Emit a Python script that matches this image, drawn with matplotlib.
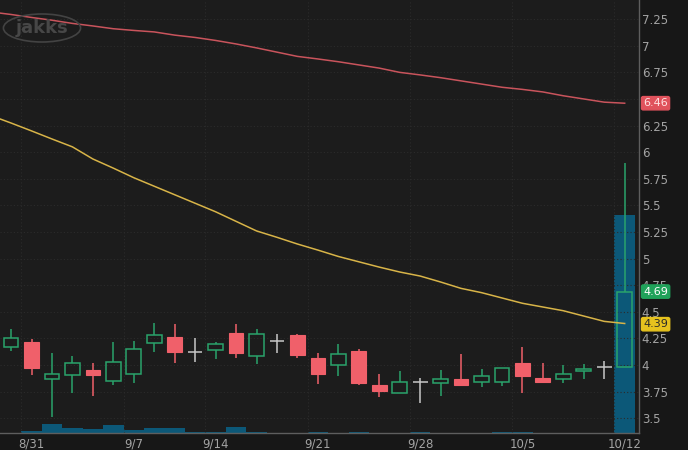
import matplotlib
matplotlib.use("Agg")
import matplotlib.pyplot as plt
import numpy as np

# ---------------- data ----------------
dates = ["8/28", "8/31", "9/1", "9/2", "9/3", "9/4", "9/8", "9/9", "9/10", "9/11",
         "9/14", "9/15", "9/16", "9/17", "9/18", "9/21", "9/22", "9/23", "9/24", "9/25",
         "9/28", "9/29", "9/30", "10/1", "10/2", "10/5", "10/6", "10/7", "10/8", "10/9",
         "10/12"]
opens  = [4.17, 4.22, 3.87, 3.91, 3.95, 3.85, 3.92, 4.21, 4.26, 4.12,
          4.14, 4.30, 4.08, 4.225, 4.28, 4.07, 4.00, 4.13, 3.81, 3.74,
          3.84, 3.83, 3.87, 3.84, 3.84, 4.02, 3.88, 3.87, 3.94, 3.98,
          3.98]
highs  = [4.34, 4.24, 4.11, 4.08, 4.02, 4.22, 4.23, 4.39, 4.385, 4.25,
          4.22, 4.385, 4.34, 4.29, 4.29, 4.11, 4.20, 4.15, 3.92, 3.94,
          3.88, 3.95, 4.10, 3.96, 3.97, 4.17, 4.02, 4.00, 4.01, 4.04,
          5.90]
lows   = [4.13, 3.91, 3.51, 3.74, 3.71, 3.81, 3.83, 4.12, 4.02, 4.03,
          4.06, 4.07, 4.01, 4.11, 4.07, 3.82, 3.90, 3.81, 3.70, 3.74,
          3.64, 3.71, 3.80, 3.79, 3.80, 3.74, 3.83, 3.83, 3.87, 3.87,
          3.98]
closes = [4.25, 3.97, 3.92, 4.02, 3.91, 4.03, 4.15, 4.28, 4.12, 4.12,
          4.20, 4.11, 4.29, 4.225, 4.09, 3.92, 4.10, 3.83, 3.76, 3.84,
          3.84, 3.87, 3.81, 3.90, 3.97, 3.90, 3.84, 3.92, 3.96, 3.98,
          4.69]
volumes = [50, 200, 900, 500, 400, 800, 300, 500, 500, 100,
           100, 600, 100, 50, 50, 100, 50, 100, 50, 50,
           150, 50, 50, 50, 100, 150, 50, 50, 50, 50,
           21800]  # thousands (relative)

# moving averages (first value is the session before the first candle)
ma_slow = [7.318, 7.294, 7.266, 7.24, 7.21, 7.186, 7.16, 7.144, 7.13, 7.10, 7.078,
           7.05, 7.017, 6.98, 6.94, 6.90, 6.876, 6.85, 6.82, 6.79, 6.75,
           6.726, 6.70, 6.67, 6.64, 6.61, 6.59, 6.566, 6.53, 6.50, 6.47, 6.46]
ma_fast = [6.345, 6.274, 6.20, 6.124, 6.05, 5.936, 5.85, 5.76, 5.68, 5.60, 5.52,
           5.44, 5.35, 5.26, 5.20, 5.137, 5.08, 5.02, 4.97, 4.92, 4.874,
           4.836, 4.78, 4.72, 4.68, 4.63, 4.58, 4.545, 4.51, 4.46, 4.41, 4.39]

xtick_labels = ["8/31", "9/7", "9/14", "9/21", "9/28", "10/5", "10/12"]
xtick_idx = [1, 6, 10, 15, 20, 25, 30]
week_breaks = [0.5, 5.5, 9.5, 14.5, 19.5, 24.5, 29.5]
price_ticks = [3.5, 3.75, 4, 4.25, 4.5, 4.75, 5, 5.25, 5.5, 5.75, 6, 6.25, 6.5, 6.75, 7, 7.25]
price_tick_labels = ["3.5", "3.75", "4", "4.25", "4.5", "4.75", "5", "5.25", "5.5",
                     "5.75", "6", "6.25", "", "6.75", "7", "7.25"]

# ---------------- style ----------------
BG = "#1c1c1c"
GREEN = "#2aa36b"
RED = "#f0606a"
GRAY = "#c8c8c8"
VOL = "#0c5878"
SLOW = "#c9545c"
FAST = "#d8b448"
TXT = "#a3a3a3"

W, H = 688, 450
fig = plt.figure(figsize=(W / 100, H / 100), dpi=100, facecolor="#171717")
rect = [0, (H - 433) / H, 639 / W, 433 / H]
ax = fig.add_axes(rect)
ax_vol = ax.twinx()
ax.set_zorder(ax_vol.get_zorder() + 1)
ax.patch.set_visible(False)
ax_vol.patch.set_visible(True)
ax_vol.patch.set_facecolor(BG)

x = np.arange(len(dates))
xlim = (-0.54, 30.7)
ylim = (3.361, 7.430)

# volume
ax_vol.bar(x, volumes, width=1.0, color=VOL, linewidth=0, zorder=1)
ax_vol.set_ylim(0, 43300)
ax_vol.set_yticks([])
for s in ax_vol.spines.values():
    s.set_visible(False)

# grid
for p in price_ticks:
    ax.axhline(p, color="#2b2b2b", lw=0.8, ls=(0, (1, 2)), zorder=0)
for b in week_breaks:
    ax.axvline(b, color="#2b2b2b", lw=0.8, ls=(0, (1, 2)), zorder=0)

# candles
bw = 0.72
for i in range(len(dates)):
    o, h, l, c = opens[i], highs[i], lows[i], closes[i]
    top, bot = max(o, c), min(o, c)
    if abs(c - o) < 1e-9:
        col = GRAY
        ax.vlines(x[i], l, h, color=col, lw=1.1, zorder=3)
        ax.hlines(c, x[i] - bw / 2, x[i] + bw / 2, color=col, lw=1.1, zorder=3)
        continue
    if c > o:
        col = GREEN
        ax.vlines(x[i], top, h, color=col, lw=1.1, zorder=3)
        ax.vlines(x[i], l, bot, color=col, lw=1.1, zorder=3)
        ax.bar(x[i], top - bot, bottom=bot, width=bw, facecolor="none",
               edgecolor=col, linewidth=1.1, zorder=3)
    else:
        col = RED
        ax.vlines(x[i], l, h, color=col, lw=1.1, zorder=3)
        ax.bar(x[i], top - bot, bottom=bot, width=bw, facecolor=col,
               edgecolor=col, linewidth=0.8, zorder=3)

# moving averages
xm = np.arange(-1, len(dates))
ax.plot(xm, ma_slow, color=SLOW, lw=1.1, zorder=4)
ax.plot(xm, ma_fast, color=FAST, lw=1.1, zorder=4)

ax.set_xlim(*xlim)
ax.set_ylim(*ylim)
ax_vol.set_xlim(*xlim)

# axes styling
ax.yaxis.tick_right()
ax.set_yticks(price_ticks)
ax.set_yticklabels(price_tick_labels)
ax.tick_params(axis="y", length=0, pad=2, labelsize=8.5, labelcolor=TXT)
ax.set_xticks(xtick_idx)
ax.set_xticklabels(xtick_labels)
ax.tick_params(axis="x", length=0, pad=3, labelsize=8.5, labelcolor=TXT)
for name, s in ax.spines.items():
    if name in ("right", "bottom"):
        s.set_color("#5e5e5e")
        s.set_linewidth(1.0)
    else:
        s.set_visible(False)

# last value tags
def tag(val, fc, tc, dy=0):
    ax.annotate(f"{val:.2f}", xy=(1.0, val), xycoords=("axes fraction", "data"),
                xytext=(3, dy), textcoords="offset points", ha="left", va="center",
                fontsize=8, color=tc, zorder=10, annotation_clip=False,
                bbox=dict(boxstyle="round,pad=0.15", fc=fc, ec=fc))

tag(ma_slow[-1], "#e0525c", "#ffe2e2")
tag(closes[-1], "#20a25a", "#ffffff")
tag(ma_fast[-1], "#e6c21e", "#2a2a2a", dy=-0.5)

# watermark logo
fig.text(42 / W, 1 - 28 / H, "jakks", fontsize=13, fontweight="bold", color="#474747",
         ha="center", va="center", zorder=20,
         bbox=dict(boxstyle="ellipse,pad=0.05", fc="none", ec="#434343", lw=1.2))

fig.savefig("out.png", dpi=100, facecolor=fig.get_facecolor())
